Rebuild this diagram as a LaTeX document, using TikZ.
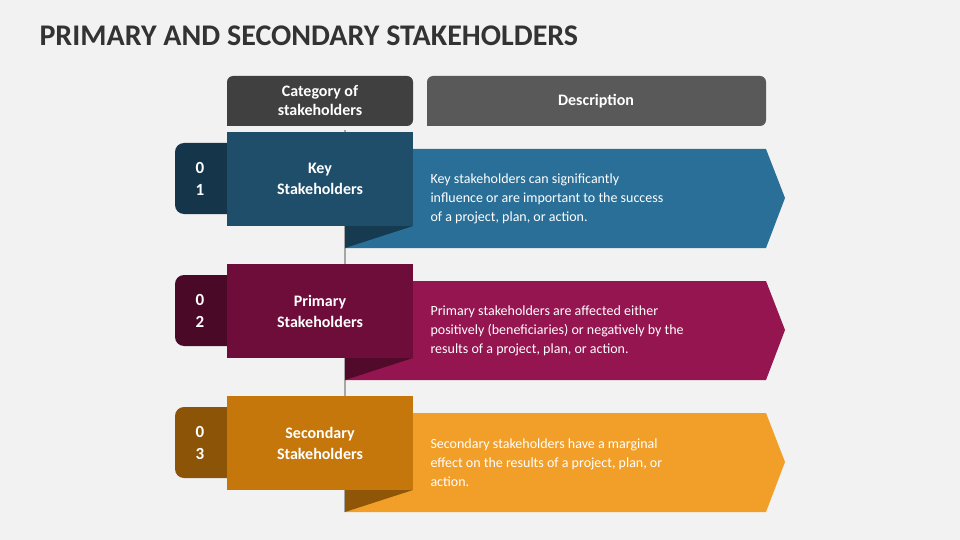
\documentclass[tikz,border=0pt]{standalone}
\usepackage{fontspec}
\setmainfont{Carlito}
\begin{document}
\begin{tikzpicture}[x=1pt,y=-1pt,
 hdr/.style={text=white,font=\bfseries\fontsize{16}{19}\selectfont,align=center},
 cat/.style={text=white,font=\bfseries\fontsize{16}{21}\selectfont,align=center},
 num/.style={text=white,font=\bfseries\fontsize{17}{22}\selectfont,align=center},
 desc/.style={text=white,font=\fontsize{14}{19}\selectfont,align=left,anchor=west}]
\fill[gray!10] (0,0) rectangle (960,540);
\useasboundingbox (0,0) rectangle (960,540);
\node[anchor=west,text=black!80,font=\bfseries\fontsize{30}{34}\selectfont] (title) at (36,36) {PRIMARY AND SECONDARY STAKEHOLDERS};
\fill[black!75,rounded corners=6pt] (227,126) -- (227,76) -- (413,76) -- (413,126) [sharp corners]-- cycle;
\node[hdr] (h1) at (320,101) {Category of\\stakeholders};
\fill[black!65,rounded corners=6pt] (427,126) -- (427,76) -- (766,76) -- (766,126) [sharp corners]-- cycle;
\node[hdr] (h2) at (596,101) {Description};
\draw[gray!70,line width=2pt] (345,130) -- (345,512);
\foreach \ii/\cB/\cA/\cT/\cF/\nn/\wa/\wb/\tx in {
 0/1F4E6B/2A6F97/14354A/163A50/1/Key/Stakeholders/{Key stakeholders can significantly\\influence or are important to the success\\of a project, plan, or action.},
 1/6E0D3A/951550/4A0A27/520A2B/2/Primary/Stakeholders/{Primary stakeholders are affected either\\positively (beneficiaries) or negatively by the\\results of a project, plan, or action.},
 2/C5770B/F29F2A/8B5407/8F5608/3/Secondary/Stakeholders/{Secondary stakeholders have a marginal\\effect on the results of a project, plan, or\\action.}}{
 \definecolor{colb}{HTML}{\cB}\definecolor{cola}{HTML}{\cA}\definecolor{colt}{HTML}{\cT}\definecolor{colf}{HTML}{\cF}
 \begin{scope}[yshift=-132*\ii]
 \fill[cola] (345,149) -- (766,149) -- (785,198) -- (766,248) -- (345,248) -- cycle;
 \fill[colf] (345,226) -- (413,226) -- (345,248) -- cycle;
 \fill[colt,rounded corners=9pt] (240,214) -- (175,214) -- (175,143) -- (240,143) [sharp corners] -- cycle;
 \fill[colb] (227,132) rectangle (413,226);
 \node[num] (n\nn) at (200,179) {0\\\nn};
 \node[cat] (c\nn) at (320,179) {\wa\\\wb};
 \node[desc] (d\nn) at (427,199) {\tx};
 \end{scope}}
\end{tikzpicture}
\end{document}
